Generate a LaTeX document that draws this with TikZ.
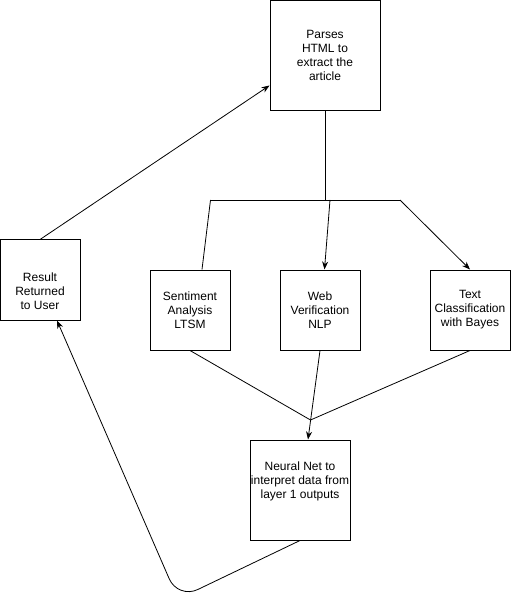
\documentclass[tikz,border=0pt]{standalone}
\usepackage{fontspec}
\setmainfont{Liberation Sans}
\usetikzlibrary{arrows.meta}
\begin{document}
\begin{tikzpicture}[x=1pt,y=-1pt,
  box/.style={draw,line width=1pt,rectangle,align=center,inner sep=0pt,
    font=\fontsize{12}{14}\selectfont},
  sq80/.style={box,minimum width=80pt,minimum height=80pt},
  conn/.style={line width=0.8pt},
  arr/.style={conn,-{Stealth[length=8pt,width=6pt,inset=2.5pt]}},
  lbl/.style={align=center,font=\fontsize{12}{14}\selectfont}
]
\useasboundingbox (0,0) rectangle (511,593);
\node[box,minimum width=110pt,minimum height=110pt] (parse) at (325,55.5) {Parses\\HTML to\\extract the\\article};
\node[sq80] (sent) at (190,310) {Sentiment\\Analysis\\LTSM};
\node[sq80] (web) at (320,310) {Web\\Verification\\NLP};
\node[sq80] (textc) at (470,310) {Text\\Classification\\with Bayes};
\node[box,minimum width=100pt,minimum height=100pt,
  label={[lbl,yshift=9pt]center:Neural Net to\\interpret data from\\layer 1 outputs}] (nn) at (300,490) {};
\node[sq80,label={[lbl,yshift=-11pt]center:Result\\Returned\\to User}] (res) at (40,280) {};
\coordinate (jt) at (325,200);
\coordinate (jl) at (210.5,200);
\coordinate (jm) at (330,200);
\coordinate (jr) at (400,200);
\coordinate (m) at (310.5,420);
\coordinate (low) at (178,599);
% top split
\draw[conn] (parse.south) -- (jt);
\draw[conn] (jl) -- (jr);
\draw[conn] (jl) -- ([xshift=12pt]sent.north);
\draw[arr] (jm) -- ([xshift=4.5pt]web.north);
\draw[arr] (jr) -- (textc.north);
% merge
\draw[conn] (sent.south) -- (m);
\draw[conn] (textc.south) -- (m);
\draw[arr] (web.south) -- ([xshift=8pt]nn.north);
% return paths
\draw[arr] (res.north) -- ([yshift=-30pt]parse.west);
\draw[arr,rounded corners=22pt] (nn.south) -- (low) -- ([xshift=17pt]res.south);
\end{tikzpicture}
\end{document}
